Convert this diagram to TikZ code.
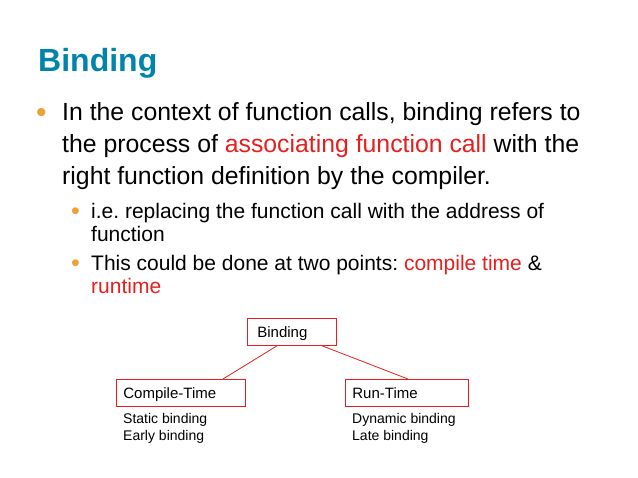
\documentclass[tikz,border=0pt]{standalone}
\usepackage{fontspec}
\setmainfont{Liberation Sans}
\frenchspacing
\definecolor{ttl}{RGB}{0,132,172}
\definecolor{bul}{RGB}{240,160,50}
\definecolor{hl}{RGB}{230,30,30}
\begin{document}
\begin{tikzpicture}[x=1pt,y=-1pt,
  t1/.style={anchor=base west,inner sep=0pt,font=\fontsize{24.8}{28}\selectfont},
  t2/.style={anchor=base west,inner sep=0pt,font=\fontsize{21}{24}\selectfont},
  t3/.style={anchor=base west,inner sep=0pt,font=\fontsize{14}{17}\selectfont},
  bu/.style={anchor=base west,inner sep=0pt,text=bul},
  bx/.style={draw=hl,line width=0.8pt,minimum height=27pt,anchor=north west,inner ysep=0pt,inner xsep=7pt,align=left,font=\fontsize{15}{18}\selectfont,text depth=0pt},
  ln/.style={draw=hl,line width=0.8pt}]
\useasboundingbox (0,0) rectangle (638,478);
\node[anchor=base west,inner sep=0pt,font=\fontsize{32}{36}\selectfont\bfseries,text=ttl] (title) at (38,72) {Binding};
\node[bu,font=\fontsize{30}{30}\selectfont] (b1) at (36,123) {•};
\node[t1] (l1) at (62,121) {In the context of function calls, binding refers to};
\node[t1] (l2) at (62,153) {the process of \textcolor{hl}{associating function call} with the};
\node[t1] (l3) at (62,185) {right function definition by the compiler.};
\node[bu,font=\fontsize{25}{25}\selectfont] (b2) at (71,220) {•};
\node[t2] (l4) at (91,219) {i.e. replacing the function call with the address of};
\node[t2] (l5) at (91,242) {function};
\node[bu,font=\fontsize{25}{25}\selectfont] (b3) at (71,272) {•};
\node[t2] (l6) at (91,271) {This could be done at two points: \textcolor{hl}{compile time} \&};
\node[t2,text=hl] (l7) at (91,294) {runtime};
\node[bx,inner xsep=10pt,text width=69pt] (bind) at (247,318) {Binding};
\node[bx,text width=115pt] (ct) at (116,379) {Compile-Time};
\node[bx,text width=109pt] (rt) at (345,379) {Run-Time};
\draw[ln] ([xshift=30pt]bind.south west) -- ([xshift=107pt]ct.north west);
\draw[ln] ([xshift=75pt]bind.south west) -- ([xshift=63pt]rt.north west);
\node[t3] (s1) at (123,424) {Static binding};
\node[t3] (s2) at (123,441) {Early binding};
\node[t3] (d1) at (352,424) {Dynamic binding};
\node[t3] (d2) at (352,441) {Late binding};
\end{tikzpicture}
\end{document}
